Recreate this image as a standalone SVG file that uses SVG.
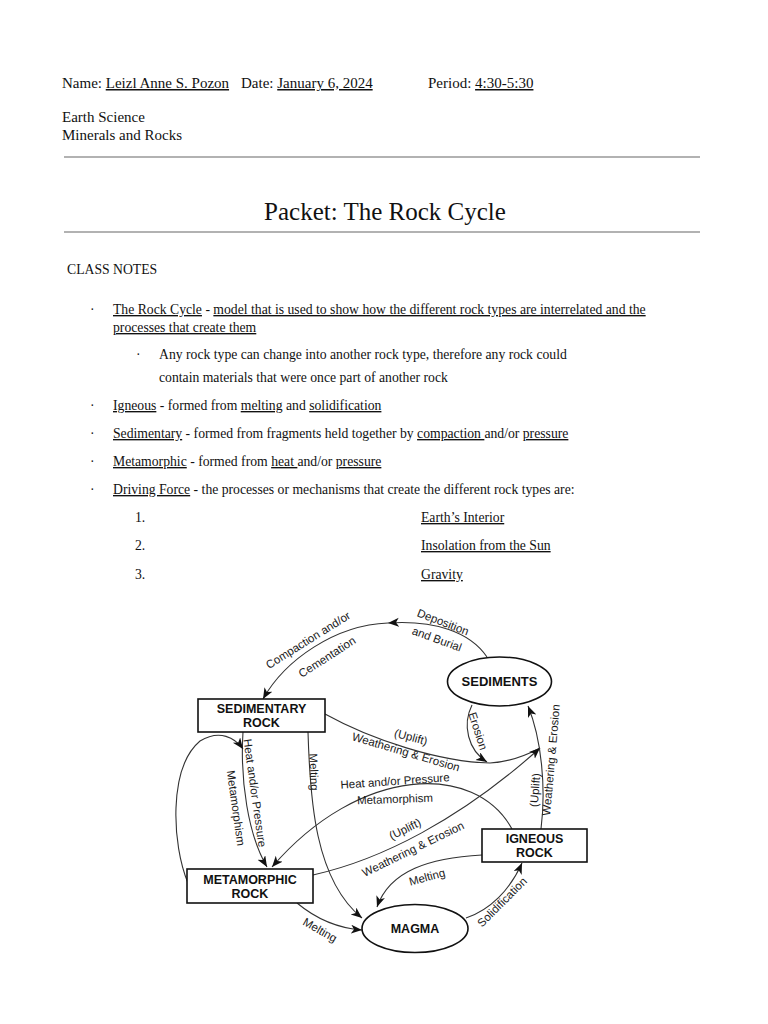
<svg xmlns="http://www.w3.org/2000/svg" width="768" height="1024" viewBox="0 0 768 1024">
<style>
.doc{font-family:"Liberation Serif","Times New Roman",serif;font-size:13.7px;fill:#111}
.hd{font-size:15px}
.ttl{font-size:25px;text-anchor:middle}
.u{text-decoration:underline}
.node rect,.node ellipse{fill:#fff;stroke:#111;stroke-width:1.6}
.nt{font-family:"Liberation Sans",Arial,sans-serif;font-weight:bold;font-size:12.5px;fill:#111;text-anchor:middle}
.lbl{font-family:"Liberation Sans",Arial,sans-serif;font-size:11.5px;fill:#1a1a1a;text-anchor:middle;dominant-baseline:central}
.c path{fill:none;stroke:#333;stroke-width:1.1}
.rule{stroke:#999;stroke-width:1.3}
</style>
<defs>
<marker id="ah" markerUnits="userSpaceOnUse" markerWidth="12" markerHeight="10" refX="11" refY="4.5" orient="auto">
<path d="M0,0 L11,4.5 L0,9 L3,4.5 z" fill="#111"/>
</marker>
</defs>
<rect width="768" height="1024" fill="#fff"/>

<g id="header">
<text class="doc hd" x="62" y="88">Name: <tspan class="u">Leizl Anne S. Pozon</tspan></text>
<text class="doc hd" x="241" y="88">Date: <tspan class="u">January 6, 2024</tspan></text>
<text class="doc hd" x="428" y="88">Period: <tspan class="u">4:30-5:30 </tspan></text>
<text class="doc hd" x="62" y="122">Earth Science</text>
<text class="doc hd" x="62" y="140">Minerals and Rocks</text>
<line class="rule" x1="64" y1="157" x2="700" y2="157"/>
<text class="doc ttl" x="385" y="220">Packet: The Rock Cycle</text>
<line class="rule" x1="64" y1="232" x2="700" y2="232"/>
</g>

<g id="notes">
<text class="doc" x="67" y="274">CLASS NOTES</text>
<text class="doc" x="90" y="314">·</text>
<text class="doc" x="113" y="314"><tspan class="u">The Rock Cycle</tspan> - <tspan class="u">model that is used to show how the different rock types are interrelated and the</tspan></text>
<text class="doc" x="113" y="332"><tspan class="u">processes that create them</tspan></text>
<text class="doc" x="136" y="359">·</text>
<text class="doc" x="159" y="359">Any rock type can change into another rock type, therefore any rock could</text>
<text class="doc" x="159" y="382">contain materials that were once part of another rock</text>
<text class="doc" x="90" y="410">·</text>
<text class="doc" x="113" y="410"><tspan class="u">Igneous</tspan> - formed from <tspan class="u">melting</tspan> and <tspan class="u">solidification</tspan></text>
<text class="doc" x="90" y="438">·</text>
<text class="doc" x="113" y="438"><tspan class="u">Sedimentary</tspan> - formed from fragments held together by <tspan class="u">compaction </tspan>and/or <tspan class="u">pressure</tspan></text>
<text class="doc" x="90" y="466">·</text>
<text class="doc" x="113" y="466"><tspan class="u">Metamorphic</tspan> - formed from <tspan class="u">heat </tspan>and/or <tspan class="u">pressure</tspan></text>
<text class="doc" x="90" y="494">·</text>
<text class="doc" x="113" y="494"><tspan class="u">Driving Force</tspan> - the processes or mechanisms that create the different rock types are:</text>
<text class="doc" x="135" y="522">1.</text>
<text class="doc" x="421" y="522"><tspan class="u">Earth’s Interior</tspan></text>
<text class="doc" x="135" y="550">2.</text>
<text class="doc" x="421" y="550"><tspan class="u">Insolation from the Sun</tspan></text>
<text class="doc" x="135" y="579">3.</text>
<text class="doc" x="421" y="579"><tspan class="u">Gravity</tspan></text>
</g>

<g id="connectors" class="c">
<path d="M487,657 C470,632 435,620 388,623" marker-end="url(#ah)"/>
<path d="M388,623 C335,625 285,660 263,699" marker-end="url(#ah)"/>
<path d="M325,714 C372,740 440,762 490,763 C510,762 525,756 540,748"/>
<path d="M313,875 C380,860 460,820 540,748" marker-end="url(#ah)"/>
<path d="M472,705 C462,725 468,750 487,762" marker-end="url(#ah)"/>
<path d="M541,829 C546,790 542,740 528,706" marker-end="url(#ah)"/>
<path d="M482,855 C430,858 390,870 377,907" marker-end="url(#ah)"/>
<path d="M466,918 C490,910 510,890 522,863" marker-end="url(#ah)"/>
<path d="M243,732 C240,780 248,835 267,867" marker-end="url(#ah)"/>
<path d="M188,883 C172,845 168,768 200,741 C220,729 235,738 243,749" marker-end="url(#ah)"/>
<path d="M308,732 C310,800 315,880 362,918" marker-end="url(#ah)"/>
<path d="M297,903 C315,918 335,928 362,930" marker-end="url(#ah)"/>
<path d="M512,829 C475,762 360,765 272,867" marker-end="url(#ah)"/>
</g>

<g id="labels">
<text class="lbl" transform="translate(443,622) rotate(21)">Deposition</text>
<text class="lbl" transform="translate(437,639) rotate(20)">and Burial</text>
<text class="lbl" transform="translate(308,640) rotate(-32)">Compaction and/or</text>
<text class="lbl" transform="translate(327,657) rotate(-33)">Cementation</text>
<text class="lbl" transform="translate(411,737) rotate(15)">(Uplift)</text>
<text class="lbl" transform="translate(406,752) rotate(16.5)">Weathering &amp; Erosion</text>
<text class="lbl" transform="translate(478,731) rotate(72)">Erosion</text>
<text class="lbl" transform="translate(551,760) rotate(-85)">Weathering &amp; Erosion</text>
<text class="lbl" transform="translate(535,790) rotate(-86)">(Uplift)</text>
<text class="lbl" transform="translate(395,781) rotate(-4)">Heat and/or Pressure</text>
<text class="lbl" transform="translate(395,799) rotate(-2)">Metamorphism</text>
<text class="lbl" transform="translate(405,829) rotate(-26)">(Uplift)</text>
<text class="lbl" transform="translate(413,849) rotate(-26)">Weathering &amp; Erosion</text>
<text class="lbl" transform="translate(427,877) rotate(-15)">Melting</text>
<text class="lbl" transform="translate(502,902) rotate(-45)">Solidification</text>
<text class="lbl" transform="translate(320,930) rotate(30)">Melting</text>
<text class="lbl" transform="translate(314,772) rotate(88)">Melting</text>
<text class="lbl" transform="translate(255,793) rotate(82)">Heat and/or Pressure</text>
<text class="lbl" transform="translate(236,808) rotate(82)">Metamorphism</text>
</g>

<g id="sedimentary-rock" class="node">
<rect x="198" y="699" width="127" height="33"/>
<text class="nt" x="261.5" y="713">SEDIMENTARY</text>
<text class="nt" x="261.5" y="727">ROCK</text>
</g>
<g id="sediments" class="node">
<ellipse cx="499.5" cy="681.5" rx="52" ry="24.5"/>
<text class="nt" x="499.5" y="686" style="font-size:13px">SEDIMENTS</text>
</g>
<g id="igneous-rock" class="node">
<rect x="482" y="829" width="105" height="33"/>
<text class="nt" x="534.5" y="843">IGNEOUS</text>
<text class="nt" x="534.5" y="857">ROCK</text>
</g>
<g id="metamorphic-rock" class="node">
<rect x="187" y="869" width="126" height="34"/>
<text class="nt" x="250" y="884">METAMORPHIC</text>
<text class="nt" x="250" y="898">ROCK</text>
</g>
<g id="magma" class="node">
<ellipse cx="415" cy="928.5" rx="53" ry="24"/>
<text class="nt" x="415" y="933">MAGMA</text>
</g>
</svg>
